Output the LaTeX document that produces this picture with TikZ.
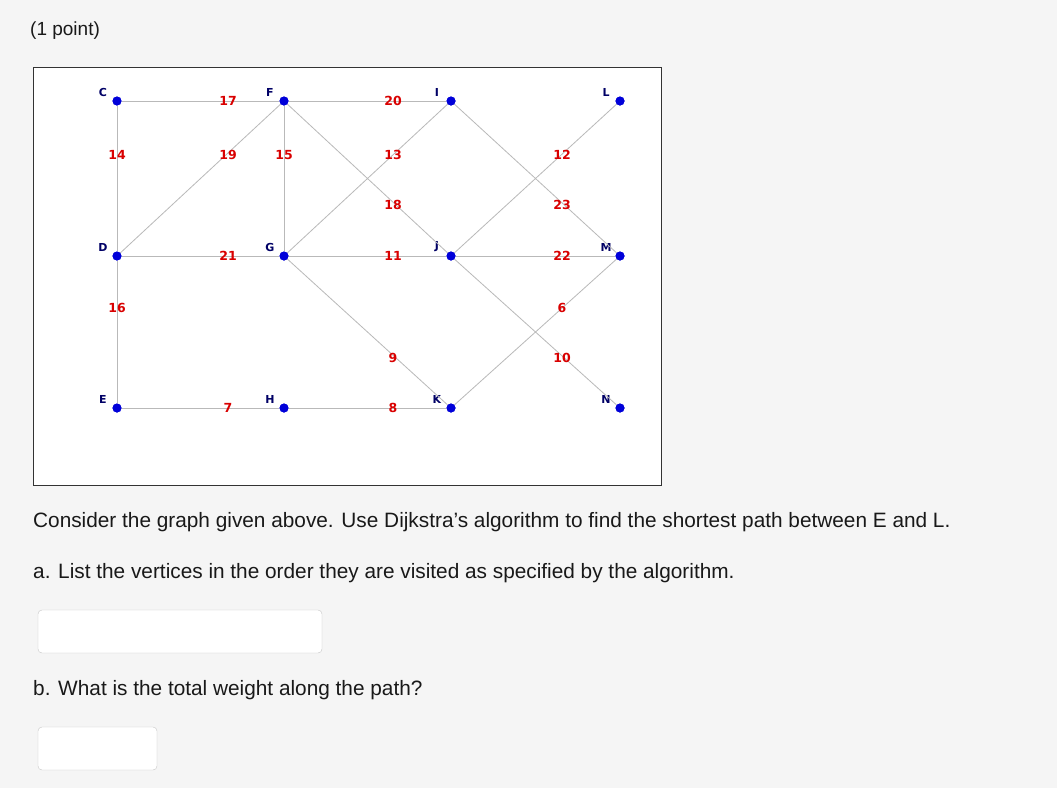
\documentclass[tikz,border=0pt]{standalone}
\usepackage{fontspec}
\setmainfont{Liberation Sans}
\newfontfamily\gf{DejaVu Sans}
\begin{document}
\begin{tikzpicture}[x=1pt,y=-1pt,
  vtx/.style={circle,fill=blue!85!black,inner sep=0pt,minimum size=9pt},
  vl/.style={font=\gf\bfseries\fontsize{11}{12}\selectfont,text=blue!40!black,inner sep=0pt},
  ed/.style={draw=gray!55,line width=0.8pt},
  wl/.style={font=\gf\bfseries\fontsize{12.5}{14}\selectfont,text=red!85!black,inner sep=1pt},
  txt/.style={font=\fontsize{20.8}{24}\selectfont,anchor=west,inner sep=0pt,text=black!90}]
\useasboundingbox (0,0) rectangle (1057,788);
\fill[gray!8] (0,0) rectangle (1057,788);
\node[txt,font=\fontsize{19}{22}\selectfont] at (30,31) {(1 point)};
\draw[fill=white,draw=black!80,line width=0.8pt] (33,67) rectangle (661,485);
\foreach \n/\x/\y in {C/117/101,F/284/101,I/451/101,L/620/101,D/117/256,G/284/256,J/451/256,M/620/256,E/117/408,H/284/408,K/451/408,N/620/408}{
  \node[vtx] (\n) at (\x,\y) {};
  \node[vl] (l\n) at (\x-14,\y-9) {\n};
}
\foreach \a/\b/\w/\px/\py in {C/F/17/228/101,F/I/20/393/101,C/D/14/117/155,D/F/19/228/155,F/G/15/284/155,G/I/13/393/155,F/J/18/393/205,J/L/12/562/155,I/M/23/562/205,D/G/21/228/256,G/J/11/393/256,J/M/22/562/256,D/E/16/117/308,G/K/9/393/358,K/M/6/562/308,J/N/10/562/358,E/H/7/228/408,H/K/8/393/408}{
  \draw[ed] (\a) -- (\b);
  \node[wl] (w\a\b) at (\px,\py) {\w};
}
\foreach \n in {C,F,I,L,D,G,J,M,E,H,K,N}{\node[vtx] at (\n) {};}
\node[txt] at (33,522) {Consider the graph given above. Use Dijkstra's algorithm to find the shortest path between E and L.};
\node[txt] at (33,573) {a. List the vertices in the order they are visited as specified by the algorithm.};
\draw[rounded corners=4pt,fill=white,draw=gray!45] (38,610) rectangle (322,653);
\node[txt] at (33,690) {b. What is the total weight along the path?};
\draw[rounded corners=4pt,fill=white,draw=gray!45] (38,727) rectangle (157,770);
\end{tikzpicture}
\end{document}
